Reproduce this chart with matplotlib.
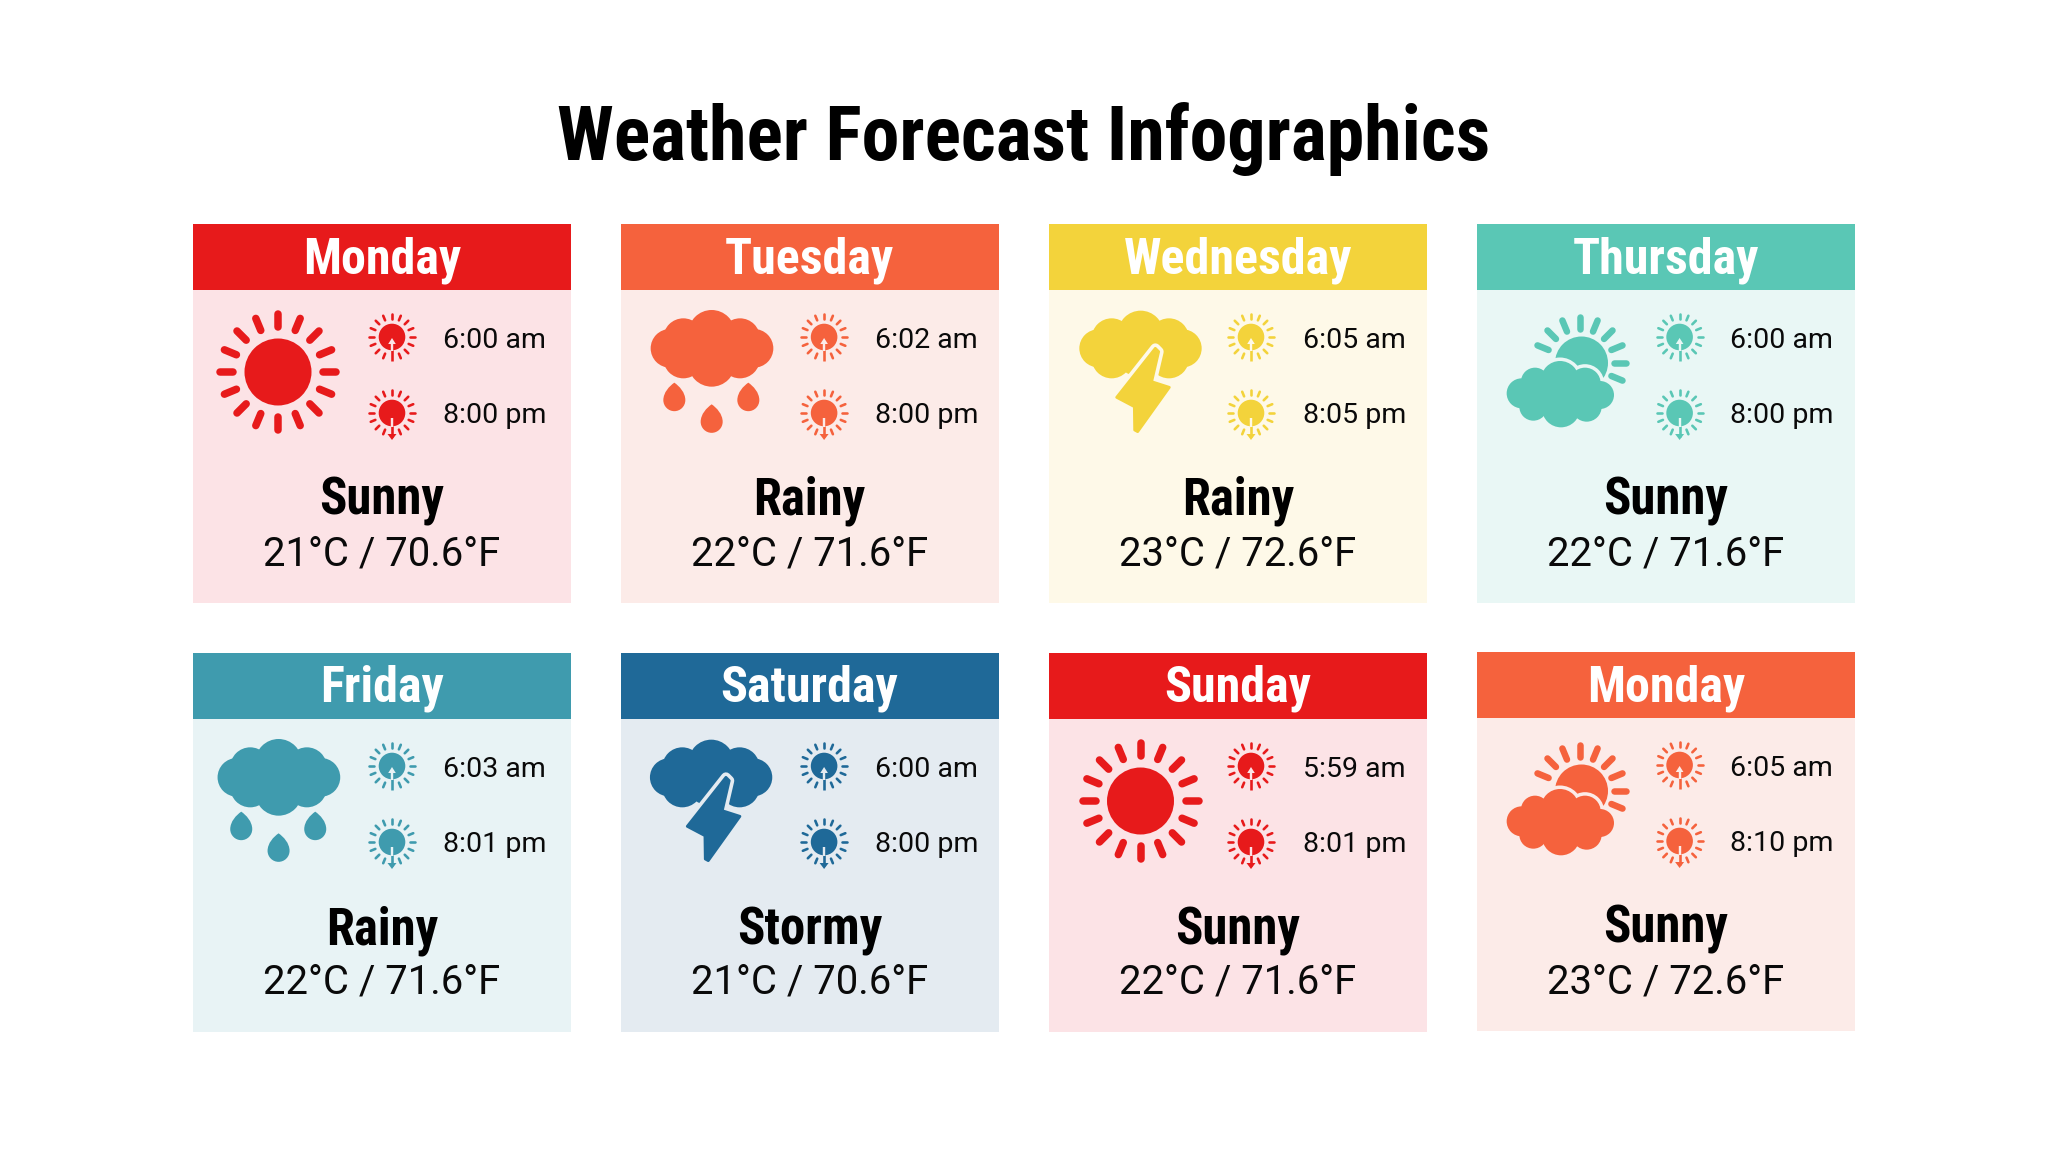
import numpy as np
import matplotlib
matplotlib.use('Agg')
from matplotlib import pyplot as plt
from matplotlib.patches import Rectangle, Circle, Polygon, PathPatch
from matplotlib.path import Path

title = 'Weather Forecast Infographics'
days = ['Monday', 'Tuesday', 'Wednesday', 'Thursday', 'Friday', 'Saturday', 'Sunday', 'Monday']
conditions = ['Sunny', 'Rainy', 'Rainy', 'Sunny', 'Rainy', 'Stormy', 'Sunny', 'Sunny']
temps = ['21°C / 70.6°F', '22°C / 71.6°F', '23°C / 72.6°F', '22°C / 71.6°F',
         '22°C / 71.6°F', '21°C / 70.6°F', '22°C / 71.6°F', '23°C / 72.6°F']
sunrise = ['6:00 am', '6:02 am', '6:05 am', '6:00 am', '6:03 am', '6:00 am', '5:59 am', '6:05 am']
sunset = ['8:00 pm', '8:00 pm', '8:05 pm', '8:00 pm', '8:01 pm', '8:00 pm', '8:01 pm', '8:10 pm']
icons = ['sun', 'rain', 'storm', 'partly', 'rain', 'storm', 'sun', 'partly']
colors = ['#E71A1B', '#F5623D', '#F3D33B', '#5AC7B5', '#3F9BAE', '#1F6998', '#E71A1B', '#F5623D']
backs = ['#FCE3E6', '#FCEBE8', '#FEF9E8', '#E9F7F5', '#E8F3F5', '#E4EBF1', '#FCE3E6', '#FCEBE8']

card_x = [193, 620.6, 1049, 1477]
card_y = [224, 653]
card_w = 378
card_h = 379
head_h = 66
small_dx = [199, 203.5, 202, 202.6]
time_dx = [250, 254.5, 254, 253.5]
icon_dx = [0, 0, 0, 0, -5.5, -1, 6.5, 0]

narrow = ['Liberation Sans Narrow', 'Roboto Condensed', 'Noto Sans']
plain = ['Roboto', 'DejaVu Sans']

# lobes of the cloud, in 3x zoom pixels
rain_lobes = [(215, 100, 70), (215, 190, 70), (90, 145, 58), (342, 145, 58),
              (130, 115, 60), (300, 115, 60), (130, 175, 60), (300, 175, 60), (215, 145, 90)]
storm_lobes = [(212, 100, 68), (85, 145, 57), (338, 145, 57),
               (125, 115, 60), (297, 115, 60), (125, 175, 60), (297, 175, 60), (212, 145, 85)]
partly_lobes = [(125, 520, 45), (165, 485, 42), (240, 480, 57), (315, 490, 47), (360, 525, 42),
                (160, 560, 42), (243, 565, 57), (320, 560, 45), (240, 525, 70)]
bolt = [(256, 145), (266, 155), (245, 245), (298, 262), (203, 395), (194, 390), (193, 320), (140, 292)]
drops = [(103, 248), (325, 248), (215, 313)]

fig = plt.figure(figsize=(20.48, 11.52), dpi=100)
ax = fig.add_axes([0, 0, 1, 1])
ax.set_xlim(0, 2048)
ax.set_ylim(1152, 0)
ax.axis('off')


def ray(cx, cy, angle, r1, r2, width, col, z=3):
    a = np.radians(angle)
    ax.plot([cx + r1 * np.cos(a), cx + r2 * np.cos(a)], [cy - r1 * np.sin(a), cy - r2 * np.sin(a)],
            color=col, lw=width * 0.72, solid_capstyle='round', zorder=z)


def cloud(lobes, ox, oy, col, grow=0, z=3):
    for x, y, r in lobes:
        ax.add_patch(Circle((ox + x / 3, oy + y / 3), r / 3 + grow, fc=col, ec='none', zorder=z))


def drop(x, y, ox, oy, col):
    # teardrop: pointed top, round belly
    px = ox + x / 3
    py = oy + y / 3
    w = 11
    h = 28.5
    cy = py + h - w
    verts = [(px, py),
             (px + 0.45 * w, py + 0.12 * h), (px + w, cy - 0.7 * w), (px + w, cy),
             (px + w, cy + 0.55 * w), (px + 0.55 * w, py + h), (px, py + h),
             (px - 0.55 * w, py + h), (px - w, cy + 0.55 * w), (px - w, cy),
             (px - w, cy - 0.7 * w), (px - 0.45 * w, py + 0.12 * h), (px, py)]
    codes = [Path.MOVETO] + [Path.CURVE4] * 12
    ax.add_patch(PathPatch(Path(verts, codes), fc=col, ec='none', zorder=3))


def big_sun(x0, y0, col):
    cx = x0 + 85
    cy = y0 + 148
    ax.add_patch(Circle((cx, cy), 33.5, fc=col, ec='none', zorder=3))
    for k in range(16):
        ray(cx, cy, k * 22.5, 45, 58, 7.5, col)


def rain(x0, y0, col):
    ox = x0 + 19.4
    oy = y0 + 76
    cloud(rain_lobes, ox, oy, col)
    for x, y in drops:
        drop(x, y, ox, oy, col)


def storm(x0, y0, col, back):
    ox = x0 + 21
    oy = y0 + 76
    cloud(storm_lobes, ox, oy, col)
    pts = [(ox + x / 3, oy + y / 3) for x, y in bolt]
    ax.add_patch(Polygon(pts, closed=True, fc=back, ec=back, lw=10 * 0.72, joinstyle='round', zorder=4))
    ax.add_patch(Polygon(pts, closed=True, fc=col, ec=col, lw=2, joinstyle='round', zorder=5))


def partly(x0, y0, col, back):
    ox = x0 + 3
    oy = y0 - 4
    cx = ox + 100
    cy = oy + 143
    for k in range(-1, 8):
        ray(cx, cy, k * 22.5, 34, 46, 6.5, col)
    ax.add_patch(Circle((cx + 1.5, cy), 26.5, fc=col, ec='none', zorder=3))
    cloud(partly_lobes, ox, oy, back, grow=3.5, z=4)
    cloud(partly_lobes, ox, oy, col, z=5)


def small_sun(cx, cy, col, back, up):
    ax.add_patch(Circle((cx, cy), 13.3, fc=col, ec='none', zorder=3))
    for k in range(16):
        if k == 12:
            continue
        ray(cx, cy, k * 22.5, 18, 23, 2.6, col)
    ax.plot([cx, cx], [cy + 13, cy + 24], color=col, lw=2.6 * 0.72, solid_capstyle='butt', zorder=4)
    ax.plot([cx, cx], [cy + 5, cy + 13.5], color=back, lw=2.4 * 0.72, solid_capstyle='butt', zorder=4)
    if up:
        ax.add_patch(Polygon([(cx, cy + 1), (cx + 3.8, cy + 7), (cx - 3.8, cy + 7)], fc=back, ec='none', zorder=4))
    else:
        ax.add_patch(Polygon([(cx, cy + 27), (cx + 4.5, cy + 21), (cx - 4.5, cy + 21)], fc=col, ec='none', zorder=4))


ax.text(1024, 160, title, ha='center', va='baseline', family=narrow, weight='bold', fontsize=54.6, color='black')

for i in range(len(days)):
    col = i % 4
    row = i // 4
    x0 = card_x[col]
    y0 = card_y[row]
    if i == 7:
        y0 = y0 - 1
    c = colors[i]
    b = backs[i]
    ax.add_patch(Rectangle((x0, y0), card_w, card_h, fc=b, ec='none', zorder=1))
    ax.add_patch(Rectangle((x0, y0), card_w, head_h, fc=c, ec='none', zorder=2))
    mid = x0 + card_w / 2
    ax.text(mid, y0 + 49, days[i], ha='center', va='baseline', family=narrow, weight='bold', fontsize=36, color='white', zorder=6)

    ix = x0 + icon_dx[i]
    if icons[i] == 'sun':
        big_sun(ix, y0, c)
    elif icons[i] == 'rain':
        rain(ix, y0, c)
    elif icons[i] == 'storm':
        storm(ix, y0, c, b)
    else:
        partly(ix, y0, c, b)

    small_sun(x0 + small_dx[col], y0 + 113, c, b, True)
    small_sun(x0 + small_dx[col], y0 + 189, c, b, False)
    ax.text(x0 + time_dx[col], y0 + 124, sunrise[i], va='baseline', family=plain, fontsize=20.5, color='#0A0A0A', zorder=6)
    ax.text(x0 + time_dx[col], y0 + 199, sunset[i], va='baseline', family=plain, fontsize=20.5, color='#0A0A0A', zorder=6)
    ax.text(mid, y0 + 291, conditions[i], ha='center', va='baseline', family=narrow, weight='bold', fontsize=36.5, color='black', zorder=6)
    ax.text(mid, y0 + 341, temps[i], ha='center', va='baseline', family=plain, fontsize=28.8, color='#0A0A0A', zorder=6)

fig.savefig('out.png', dpi=100, facecolor='white')
